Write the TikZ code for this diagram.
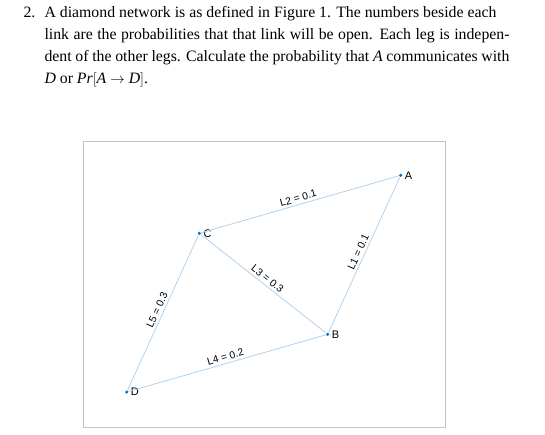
\documentclass[tikz,border=0pt]{standalone}
\usepackage{fontspec}
\setmainfont{Liberation Serif}
\setsansfont{Liberation Sans}
\definecolor{linkc}{HTML}{B3D3EE}
\definecolor{dotc}{HTML}{0072BD}
\definecolor{boxc}{HTML}{C4C4C4}
\tikzset{
  txt/.style={anchor=base west, inner sep=0pt, font=\fontsize{15.8}{22}\selectfont},
  vtx/.style={circle, fill=dotc, inner sep=0pt, minimum size=3.4pt},
  vlab/.style={anchor=west, inner sep=0pt, font=\sffamily\fontsize{11}{13}\selectfont},
  link/.style={draw=linkc, line width=0.8pt},
  llab/.style={sloped, above, midway, inner sep=2.5pt, font=\sffamily\fontsize{10.3}{12}\selectfont}
}
\begin{document}
\begin{tikzpicture}[x=1pt,y=-1pt]
\useasboundingbox (0,0) rectangle (545,434);
% problem text
\node[txt] (n2) at (23.3,17.3) {2.};
\node[txt] (t1) at (44.3,17.3) {A diamond network is as defined in Figure 1. The numbers beside each};
\node[txt] (t2) at (44.3,39.3) {\makebox[465pt][s]{link are the probabilities that that link will be open. Each leg is indepen-}};
\node[txt] (t3) at (44.3,61.3) {\makebox[465pt][s]{dent of the other legs. Calculate the probability that \textit{A} communicates with}};
\node[txt] (t4) at (44.3,83.3) {\textit{D} or \textit{Pr}$\left[\textit{A}\rightarrow \textit{D}\right]$.};
% figure frame
\node[draw=boxc, line width=1.2pt, fill=white, minimum width=362pt, minimum height=286pt, inner sep=0pt, anchor=north west] (frame) at (83,141) {};
% vertices
\node[vtx] (A) at (400.7,175.3) {};
\node[vtx] (B) at (327.7,334.3) {};
\node[vtx] (C) at (199.3,233.3) {};
\node[vtx] (D) at (126.7,392) {};
\node[vlab] (lA) at ([xshift=4pt]A.center) {A};
\node[vlab] (lB) at ([xshift=4pt]B.center) {B};
\node[vlab] (lC) at ([xshift=4pt]C.center) {C};
\node[vlab] (lD) at ([xshift=4pt]D.center) {D};
% links
\draw[link] (C) -- node[llab] (L2) {L2 = 0.1} (A);
\draw[link] (B) -- node[llab] (L1) {L1 = 0.1} (A);
\draw[link] (C) -- node[llab] (L3) {L3 = 0.3} (B);
\draw[link] (D) -- node[llab] (L5) {L5 = 0.3} (C);
\draw[link] (D) -- node[llab] (L4) {L4 = 0.2} (B);
\end{tikzpicture}
\end{document}
